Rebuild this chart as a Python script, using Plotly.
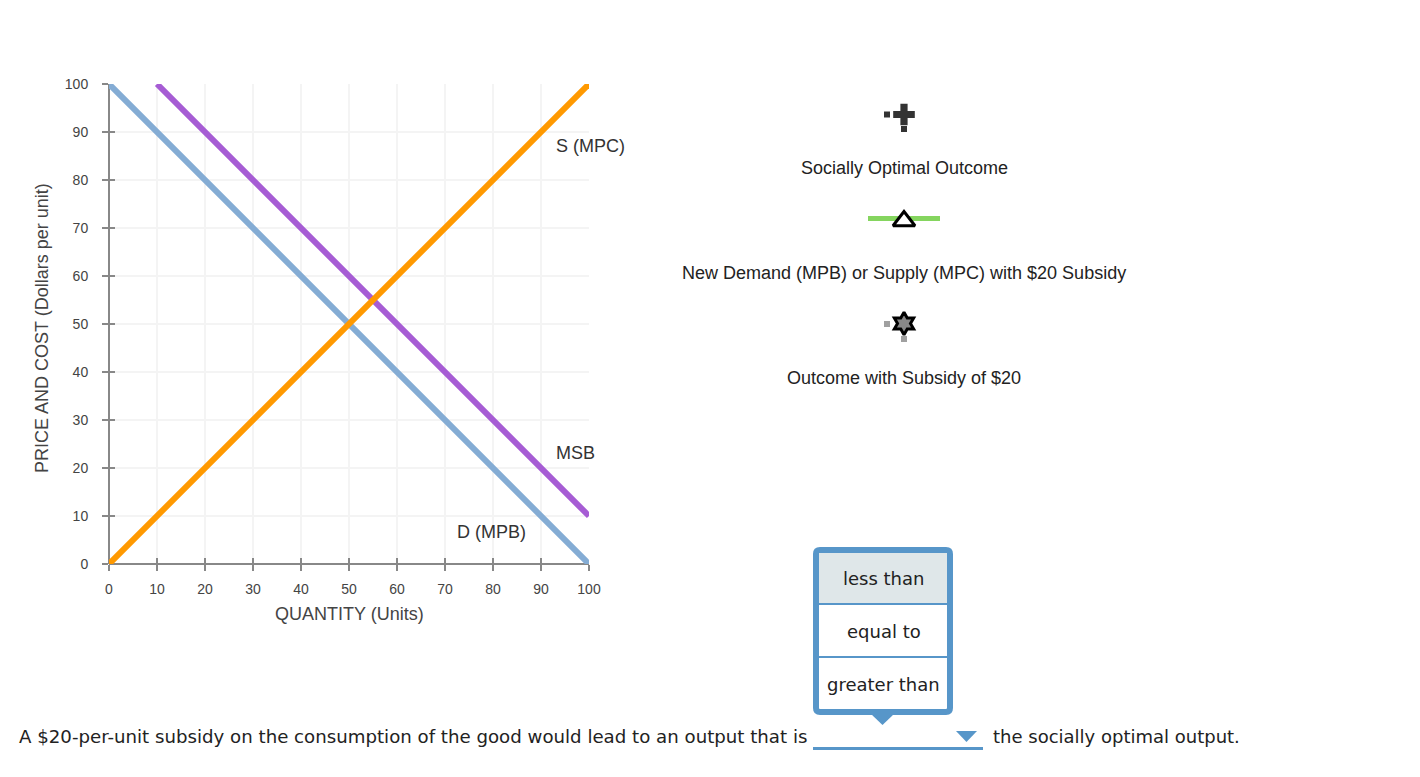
import plotly.graph_objects as go

W = 1420
H = 777

# curves
demand_x = [0, 100]
demand_y = [100, 0]
msb_x = [10, 100]
msb_y = [100, 10]
supply_x = [0, 100]
supply_y = [0, 100]
tick_vals = [0, 10, 20, 30, 40, 50, 60, 70, 80, 90, 100]

legend_labels = ['Socially Optimal Outcome',
                 'New Demand (MPB) or Supply (MPC) with $20 Subsidy',
                 'Outcome with Subsidy of $20']
dropdown_options = ['less than', 'equal to', 'greater than']
sentence_start = 'A $20-per-unit subsidy on the consumption of the good would lead to an output that is'
sentence_end = 'the socially optimal output.'

ARIAL = 'Liberation Sans, Arial, sans-serif'
VERDANA = 'DejaVu Sans, Verdana, sans-serif'
BLUE = '#5796c9'


def px_x(v):
    return v / W


def px_y(v):
    return 1 - v / H


def text(x, y, s, font=ARIAL, size=18, color='#222222', anchor='center'):
    return dict(x=px_x(x), y=px_y(y), xref='paper', yref='paper', text=s, showarrow=False,
                xanchor=anchor, yanchor='middle', font=dict(family=font, size=size, color=color))


def box(x0, y0, x1, y1, **kw):
    return dict(type='rect', xref='paper', yref='paper', x0=px_x(x0), x1=px_x(x1),
                y0=px_y(y0), y1=px_y(y1), **kw)


def tri(pts, color):
    path = 'M ' + ' L '.join(f'{px_x(a):.5f},{px_y(b):.5f}' for a, b in pts) + ' Z'
    return dict(type='path', xref='paper', yref='paper', path=path, fillcolor=color, line_width=0)


def round_box(x0, y0, x1, y1, r, **kw):
    a, b, c, d = px_x(x0), px_x(x0 + r), px_x(x1 - r), px_x(x1)
    e, f, g, h = px_y(y0), px_y(y0 + r), px_y(y1 - r), px_y(y1)
    path = (f'M {b:.5f},{e:.5f} L {c:.5f},{e:.5f} Q {d:.5f},{e:.5f} {d:.5f},{f:.5f} '
            f'L {d:.5f},{g:.5f} Q {d:.5f},{h:.5f} {c:.5f},{h:.5f} '
            f'L {b:.5f},{h:.5f} Q {a:.5f},{h:.5f} {a:.5f},{g:.5f} '
            f'L {a:.5f},{f:.5f} Q {a:.5f},{e:.5f} {b:.5f},{e:.5f} Z')
    return dict(type='path', xref='paper', yref='paper', path=path, **kw)


fig = go.Figure()

fig.add_trace(go.Scatter(x=demand_x, y=demand_y, mode='lines', cliponaxis=False,
                         line=dict(color='#84acd4', width=6)))
fig.add_trace(go.Scatter(x=msb_x, y=msb_y, mode='lines', cliponaxis=False,
                         line=dict(color='#a65cd4', width=6)))
fig.add_trace(go.Scatter(x=supply_x, y=supply_y, mode='lines', cliponaxis=False,
                         line=dict(color='#ff9900', width=6)))

# keeps the overlay axes alive
fig.add_trace(go.Scatter(x=[None], y=[None], xaxis='x2', yaxis='y2', mode='lines'))

# legend glyphs live on a hidden axis pair that is mapped 1:1 to pixels
fig.add_trace(go.Scatter(x=[868, 940], y=[218.5, 218.5], xaxis='x3', yaxis='y3', mode='lines',
                         line=dict(color='#85d55f', width=5)))
fig.add_trace(go.Scatter(x=[904], y=[114.5], xaxis='x3', yaxis='y3', mode='markers',
                         marker=dict(symbol='cross', size=18, color='#333333', line_width=0)))
fig.add_trace(go.Scatter(x=[887, 904], y=[114.5, 129], xaxis='x3', yaxis='y3', mode='markers',
                         marker=dict(symbol='square', size=6, color='#333333', line_width=0)))
fig.add_trace(go.Scatter(x=[904], y=[221], xaxis='x3', yaxis='y3', mode='markers',
                         marker=dict(symbol='triangle-up', size=19, color='white',
                                     line=dict(color='black', width=3))))
fig.add_trace(go.Scatter(x=[887, 904], y=[324, 339], xaxis='x3', yaxis='y3', mode='markers',
                         marker=dict(symbol='square', size=6, color='#a0a0a0', line_width=0)))
fig.add_trace(go.Scatter(x=[904], y=[323.5], xaxis='x3', yaxis='y3', mode='markers',
                         marker=dict(symbol='hexagram', size=17, color='#888888',
                                     line=dict(color='black', width=3))))

# zeroline instead of the axis line so it sits centred on the 0 tick
axis_common = dict(range=[0, 100], tickmode='array', tickvals=tick_vals, showline=False,
                   zeroline=True, zerolinecolor='#888888', zerolinewidth=2,
                   tickcolor='#888888', tickwidth=2, layer='below traces', automargin=False)

fig.update_layout(
    width=W, height=H, margin=dict(l=0, r=0, t=0, b=0, pad=0, autoexpand=False), showlegend=False,
    paper_bgcolor='white', plot_bgcolor='rgba(0,0,0,0)',
    font=dict(family=ARIAL, color='#444444'),
    xaxis=dict(domain=[px_x(109), px_x(589)], anchor='y', ticks='outside', ticklen=6,
               gridcolor='#f4f4f4', gridwidth=2,
               tickfont=dict(size=14, color='#444444'), ticklabelstandoff=6, **axis_common),
    yaxis=dict(domain=[px_y(564), px_y(84)], anchor='x', ticks='outside', ticklen=6,
               gridcolor='#f4f4f4', gridwidth=2,
               tickfont=dict(size=14, color='#444444'), ticklabelstandoff=11, **axis_common),
    # second pair only draws the inner half of the crossing ticks
    xaxis2=dict(domain=[px_x(109), px_x(589)], anchor='y2', overlaying='x', ticks='inside',
                ticklen=6, showticklabels=False, showgrid=False, **axis_common),
    yaxis2=dict(domain=[px_y(564), px_y(84)], anchor='x2', overlaying='y', ticks='inside',
                ticklen=6, showticklabels=False, showgrid=False, **axis_common),
    xaxis3=dict(domain=[0, 1], range=[0, W], visible=False, anchor='y3'),
    yaxis3=dict(domain=[0, 1], range=[H, 0], visible=False, anchor='x3'),
)

fig.update_layout(
    annotations=[
        text(349.5, 614, 'QUANTITY (Units)', color='#444444'),
        dict(text='PRICE AND COST (Dollars per unit)', x=px_x(42), y=px_y(328), xref='paper', yref='paper',
             textangle=-90, showarrow=False, xanchor='center', yanchor='middle',
             font=dict(family=ARIAL, size=18, color='#444444')),
        text(590, 146, 'S (MPC)', color='#333333'),
        text(575, 453, 'MSB', color='#333333'),
        text(491, 532, 'D (MPB)', color='#333333'),
        text(904, 168, legend_labels[0]),
        text(904, 273, legend_labels[1]),
        text(904, 378, legend_labels[2]),
        text(884, 578, dropdown_options[0], font=VERDANA),
        text(884, 631, dropdown_options[1], font=VERDANA),
        text(884, 684, dropdown_options[2], font=VERDANA),
        text(17, 736, sentence_start, font=VERDANA, size=18.18, anchor='left'),
        text(991, 736, sentence_end, font=VERDANA, anchor='left'),
    ],
    shapes=[
        round_box(816, 550, 950, 712, 4, fillcolor='white', line=dict(color=BLUE, width=6)),
        box(819, 553, 947, 603, fillcolor='#dfe7e9', line_width=0),
        box(819, 603, 947, 605, fillcolor=BLUE, line_width=0),
        box(819, 656, 947, 658, fillcolor=BLUE, line_width=0),
        tri([(871, 714), (894, 714), (882.5, 725)], BLUE),
        box(813, 747, 983, 750, fillcolor=BLUE, line_width=0),
        tri([(956, 731), (977, 731), (966.5, 742)], BLUE),
    ],
)

fig.write_html('out.html', config=dict(displayModeBar=False),
               post_script="document.body.style.margin='0';document.body.style.overflow='hidden';")
